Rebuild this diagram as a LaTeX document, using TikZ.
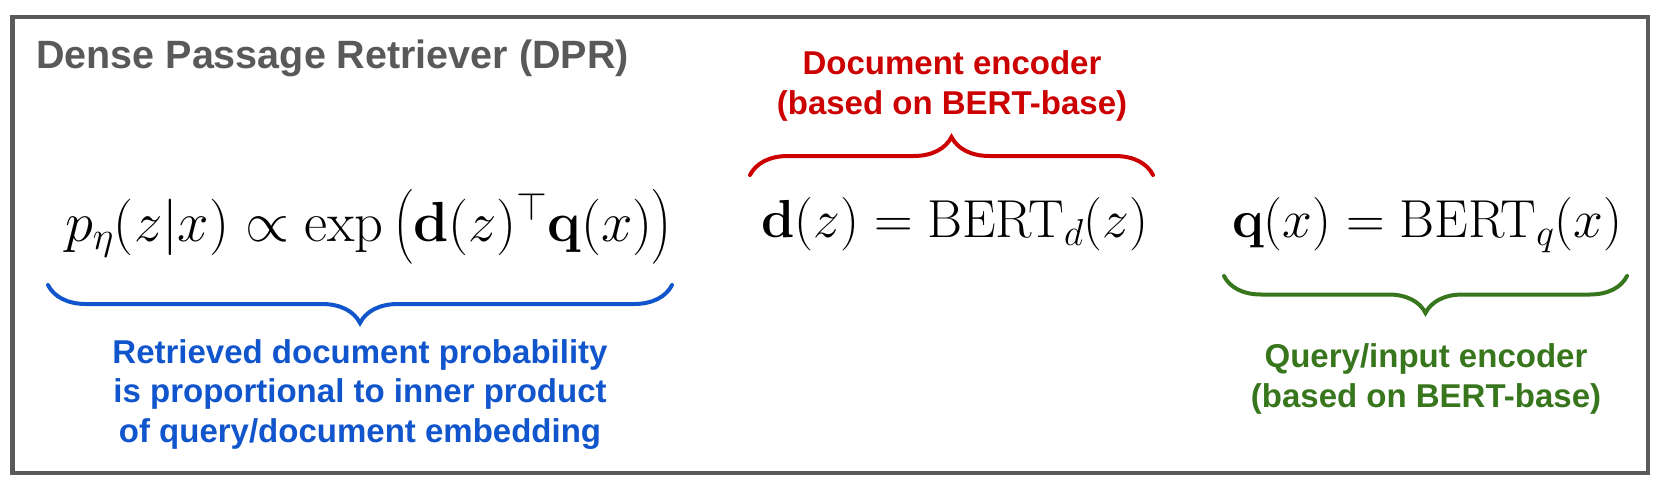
\documentclass[tikz,border=0pt]{standalone}
\usepackage{fix-cm}
\usepackage{amsmath}
\usepackage[no-math]{fontspec}
\newfontfamily\arialf{Liberation Sans}
\usetikzlibrary{decorations.pathreplacing}
\definecolor{dgray}{HTML}{595959}
\definecolor{frm}{HTML}{5A5A5A}
\definecolor{bblue}{HTML}{1155CC}
\definecolor{rred}{HTML}{CC0000}
\definecolor{ggreen}{HTML}{38761D}
\begin{document}
\begin{tikzpicture}[x=1pt,y=-1pt,
  lbl/.style={font={\arialf\bfseries\fontsize{33}{39.3}\selectfont}, align=center, anchor=base, inner sep=0pt},
  eqn/.style={font={\fontsize{53.5}{60}\selectfont}, anchor=base west, inner sep=0pt},
  brc/.style={decorate, decoration={brace, amplitude=38pt}, line width=4pt, line cap=round}]
\useasboundingbox (0,0) rectangle (1664,488);
\draw[frm, line width=4.5pt] (12.5,17) rectangle (1648,473);
\node[font={\arialf\bfseries\fontsize{39.5}{46}\selectfont}, text=dgray, anchor=base west, inner sep=0pt] (title) at (36,68) {Dense Passage Retriever (DPR)};
\node[eqn, font={\fontsize{56.5}{63}\selectfont}] (eqp) at (65,241) {$p_\eta(z|x) \propto \exp\,\bigl(\mathbf{d}(z)^{\top}\mathbf{q}(x)\bigr)$};
\node[eqn] (eqd) at (761,237) {$\mathbf{d}(z) = \mathrm{BERT}_d(z)$};
\node[eqn] (eqq) at (1232,237) {$\mathbf{q}(x) = \mathrm{BERT}_q(x)$};
\coordinate (b1l) at (48,285);
\coordinate (b1r) at (672,285);
\coordinate (b2l) at (750,175);
\coordinate (b2r) at (1153,175);
\coordinate (b3l) at (1224,276);
\coordinate (b3r) at (1627,276);
\draw[brc, bblue] (b1r) -- (b1l);
\draw[brc, rred] (b2l) -- (b2r);
\draw[brc, ggreen, decoration={amplitude=37pt}] (b3r) -- (b3l);
\node[lbl, text=bblue] (lblue) at (360,442) {Retrieved document probability\\is proportional to inner product\\of query/document embedding};
\node[lbl, text=rred] (lred) at (952,114) {Document encoder\\(based on BERT-base)};
\node[lbl, text=ggreen] (lgreen) at (1426,407) {Query/input encoder\\(based on BERT-base)};
\end{tikzpicture}
\end{document}
